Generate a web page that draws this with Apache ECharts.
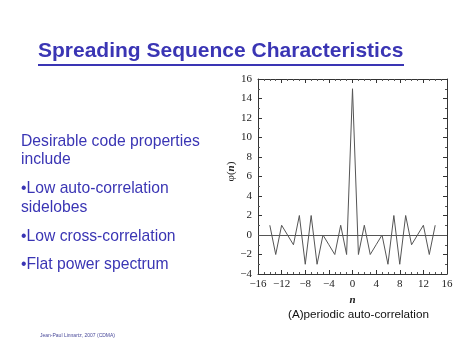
<!DOCTYPE html>
<html><head><meta charset="utf-8">
<script src="https://cdn.jsdelivr.net/npm/echarts@6/dist/echarts.min.js"></script>
<style>html,body{margin:0;padding:0;background:#fff}#c{width:474px;height:355px}</style>
</head><body><div id="c"></div>
<script>
const lagN = [-14,-13,-12,-11,-10,-9,-8,-7,-6,-5,-4,-3,-2,-1,0,1,2,3,4,5,6,7,8,9,10,11,12,13,14];
const phiValues = [1,-2,1,0,-1,2,-3,2,-3,0,-1,-2,1,-2,15,-2,1,-2,-1,0,-3,2,-3,2,-1,0,1,-2,1];
const xTicks = [-16,-12,-8,-4,0,4,8,12,16];
const yTicks = [-4,-2,0,2,4,6,8,10,12,14,16];
const titleText = 'Spreading Sequence Characteristics';
const bulletLines = ['Desirable code properties','include','•Low auto-correlation','sidelobes','•Low cross-correlation','•Flat power spectrum'];
const captionText = '(A)periodic auto-correlation';
const footerText = 'Jean-Paul Linnartz, 2007 (CDMA)';

const chart = echarts.init(document.getElementById('c'), null, {renderer:'canvas'});
const fmt = v => (v < 0 ? '\u2212' + Math.abs(v) : String(v));
const serif = '"Liberation Serif", "DejaVu Serif", serif';
const blue = '#3a35b4';
const bulletY = [143,161,190,209,238,266];

const axisCommon = {
  type:'value',
  axisLine:{show:true, onZero:false, lineStyle:{color:'#333', width:1}},
  axisTick:{show:true, inside:true, length:4, lineStyle:{color:'#333'}},
  minorTick:{show:true, splitNumber:4, length:2, lineStyle:{color:'#555'}},
  splitLine:{show:false}
};

chart.setOption({
  animation:false,
  backgroundColor:'#fff',
  grid:{left:258, right:27, top:79, bottom:81},
  xAxis:[
    Object.assign({}, axisCommon, {min:-16, max:16, interval:4, position:'bottom',
      axisLabel:{color:'#222', fontFamily:serif, fontSize:11, margin:5, formatter:fmt},
      name:'n', nameLocation:'middle', nameGap:21,
      nameTextStyle:{fontFamily:serif, fontStyle:'italic', fontWeight:'bold', fontSize:11, color:'#222'}}),
    Object.assign({}, axisCommon, {min:-16, max:16, interval:4, position:'top', axisLabel:{show:false}})
  ],
  yAxis:[
    Object.assign({}, axisCommon, {min:-4, max:16, interval:2, position:'left',
      minorTick:{show:true, splitNumber:2, length:2, lineStyle:{color:'#555'}},
      axisLabel:{color:'#222', fontFamily:serif, fontSize:11, margin:6, formatter:fmt},
      name:'{a|\u03c6(}{b|n}{a|)}', nameLocation:'middle', nameGap:13, nameRotate:90,
      nameTextStyle:{padding:[0,0,0,10], rich:{a:{fontFamily:serif, fontSize:11, color:'#222'}, b:{fontFamily:serif, fontStyle:'italic', fontWeight:'bold', fontSize:11, color:'#222'}}}}),
    Object.assign({}, axisCommon, {min:-4, max:16, interval:2, position:'right',
      minorTick:{show:true, splitNumber:2, length:2, lineStyle:{color:'#555'}},
      axisLabel:{show:false}})
  ],
  series:[{
    type:'line',
    data:lagN.map((n,i)=>[n, phiValues[i]]),
    showSymbol:false,
    lineStyle:{color:'#555', width:1},
    markLine:{silent:true, symbol:'none', label:{show:false},
      lineStyle:{color:'#555', width:1, type:'solid'},
      data:[{yAxis:0}]}
  }],
  graphic:[
    {type:'text', left:38, top:41, style:{text:titleText, fill:blue, font:'bold 21px "Liberation Sans", Arial, sans-serif'}},
    {type:'rect', shape:{x:38, y:64, width:366, height:2}, style:{fill:blue}},
    ...bulletLines.map((t,i)=>({type:'text', left:21, top:bulletY[i]-9, style:{text:t, fill:blue, font:'15.7px "Liberation Sans", Arial, sans-serif'}})),
    {type:'text', left:288, top:309, style:{text:captionText, fill:'#111', font:'11.7px "Liberation Sans", Arial, sans-serif'}},
    {type:'text', left:40, top:333, style:{text:footerText, fill:'#4a4a9a', font:'5px "Liberation Sans", Arial, sans-serif'}}
  ]
});
</script></body></html>
